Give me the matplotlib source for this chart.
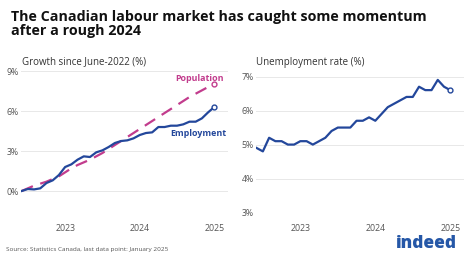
import matplotlib
matplotlib.use("Agg")
import matplotlib.pyplot as plt
import numpy as np

plt.rcParams['font.family'] = ['Open Sans', 'DejaVu Sans']

# monthly, June 2022 .. January 2025
employment = [0.0, 0.15, 0.12, 0.2, 0.6, 0.8, 1.2, 1.8, 2.0, 2.35, 2.6, 2.55,
              2.9, 3.05, 3.3, 3.6, 3.75, 3.8, 3.95, 4.2, 4.35, 4.4, 4.8, 4.8,
              4.9, 4.9, 5.0, 5.2, 5.2, 5.45, 5.9, 6.3]
population = [0.0, 0.2, 0.4, 0.55, 0.7, 0.9, 1.1, 1.4, 1.7, 1.95, 2.15, 2.35,
              2.6, 2.85, 3.15, 3.45, 3.75, 4.05, 4.35, 4.65, 4.95, 5.25, 5.55, 5.85,
              6.15, 6.45, 6.75, 7.05, 7.3, 7.55, 7.8, 8.05]
unemployment = [4.9, 4.8, 5.2, 5.1, 5.1, 5.0, 5.0, 5.1, 5.1, 5.0, 5.1, 5.2,
                5.4, 5.5, 5.5, 5.5, 5.7, 5.7, 5.8, 5.7, 5.9, 6.1, 6.2, 6.3,
                6.4, 6.4, 6.7, 6.6, 6.6, 6.9, 6.7, 6.6]
year_ticks = [7, 19, 31]
year_labels = ['2023', '2024', '2025']

months = np.arange(len(employment))
blue = '#23479b'
pink = '#c23c8d'
grey = '#555555'

fig = plt.figure(figsize=(4.74, 2.58), dpi=100)

def px(x0, y0, x1, y1):
    return [x0 / 474, 1 - y1 / 258, (x1 - x0) / 474, (y1 - y0) / 258]

ax1 = fig.add_axes(px(21, 69.7, 228, 213))
ax2 = fig.add_axes(px(256, 69.7, 464, 213))

for ax in (ax1, ax2):
    for s in ax.spines.values():
        s.set_visible(False)
    ax.set_xlim(-0.1, 33.2)
    ax.set_xticks(year_ticks)
    ax.set_xticklabels(year_labels)
    ax.tick_params(length=0, labelsize=6.3, labelcolor=grey)
    ax.tick_params(axis='x', pad=8)
    ax.tick_params(axis='y', pad=1.5)
    ax.grid(axis='y', color='#e8e8e8', linewidth=0.7)
    ax.set_axisbelow(True)

# left panel
ax1.set_ylim(-1.65, 9.1)
ax1.set_yticks([0, 3, 6, 9])
ax1.set_yticklabels(['0%', '3%', '6%', '9%'])
ax1.plot(months, population, color=pink, lw=1.6, dashes=(5.5, 3.5))
ax1.plot(months, employment, color=blue, lw=1.6)
ax1.plot(months[-1], population[-1], 'o', ms=3.5, mfc='white', mec=pink, mew=1)
ax1.plot(months[-1], employment[-1], 'o', ms=3.5, mfc='white', mec=blue, mew=1)
ax1.text(32.5, 8.45, 'Population', color=pink, fontsize=6.4, fontweight='bold',
         ha='right', va='center')
ax1.text(33.0, 4.3, 'Employment', color=blue, fontsize=6.4, fontweight='bold',
         ha='right', va='center')

# right panel
ax2.set_ylim(2.99, 7.2)
ax2.set_yticks([3, 4, 5, 6, 7])
ax2.set_yticklabels(['3%', '4%', '5%', '6%', '7%'])
ax2.plot(months, unemployment, color=blue, lw=1.6)
ax2.plot(months[-1], unemployment[-1], 'o', ms=3.5, mfc='white', mec=blue, mew=1)

# texts
fig.text(11 / 474, 1 - 10 / 258,
         'The Canadian labour market has caught some momentum\nafter a rough 2024',
         fontsize=10.3, fontweight='bold', color='#111111', va='top', ha='left',
         linespacing=1.0)
fig.text(22 / 474, 1 - 62 / 258, 'Growth since June-2022 (%)', fontsize=7,
         color='#333333', va='center')
fig.text(256 / 474, 1 - 62 / 258, 'Unemployment rate (%)', fontsize=7,
         color='#333333', va='center')
fig.text(6 / 474, 1 - 249 / 258, 'Source: Statistics Canada, last data point: January 2025',
         fontsize=4.6, color='#555555', va='center')
fig.text(457 / 474, 1 - 244 / 258, 'indeed', fontsize=12.5, fontweight='heavy',
         color='#2557a7', ha='right', va='center')

fig.savefig('out.png', dpi=100, facecolor='white')
